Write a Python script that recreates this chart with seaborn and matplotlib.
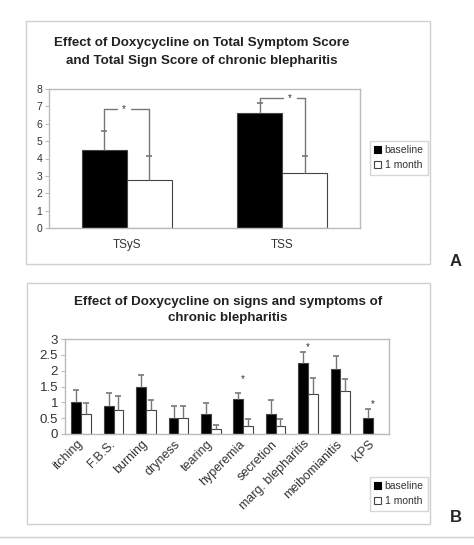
import numpy as np
import pandas as pd
import matplotlib
matplotlib.use("Agg")
import matplotlib.pyplot as plt
import seaborn as sns
from matplotlib.patches import Rectangle, Patch
from matplotlib.lines import Line2D

# Panel A: total scores
scores = ["TSyS", "TSS"]
score_baseline = [4.5, 6.6]
score_baseline_top = [5.6, 7.2]
score_month = [2.75, 3.15]
score_month_top = [4.15, 4.15]
bracket_y = [6.84, 7.49]

# Panel B: single signs and symptoms
signs = ["itching", "F.B.S.", "burning", "dryness", "tearing", "hyperemia",
         "secretion", "marg. blepharitis", "meibomianitis", "KPS"]
sign_baseline = [1.0, 0.87, 1.5, 0.5, 0.63, 1.12, 0.63, 2.25, 2.05, 0.5]
sign_baseline_top = [1.38, 1.3, 1.87, 0.88, 0.98, 1.28, 1.08, 2.6, 2.45, 0.78]
sign_month = [0.63, 0.75, 0.75, 0.5, 0.15, 0.25, 0.25, 1.25, 1.37, 0.0]
sign_month_top = [0.97, 1.2, 1.08, 0.88, 0.28, 0.48, 0.48, 1.78, 1.75, 0.0]
star_signs = ["hyperemia", "marg. blepharitis", "KPS"]
star_y = [1.72, 2.75, 0.93]

groups = ["baseline", "1 month"]

sns.set_style("white")
plt.rcParams["font.family"] = ["Liberation Sans", "DejaVu Sans"]

W, H = 474, 545
fig = plt.figure(figsize=(W / 100, H / 100), dpi=100)

def fx(px):
    return px / W

def fy(py):
    return 1 - py / H

grid_col = "#bbbbbb"
err_col = "#777777"
palette = {"baseline": "black", "1 month": "white"}


def draw_panel(ax, cats, base, base_top, month, month_top, width):
    df = pd.DataFrame({
        "cat": list(cats) * 2,
        "group": ["baseline"] * len(cats) + ["1 month"] * len(cats),
        "value": list(base) + list(month),
    })
    sns.barplot(data=df, x="cat", y="value", hue="group", hue_order=groups,
                palette=palette, edgecolor="#444444", linewidth=0.8,
                width=width, errorbar=None, legend=False, ax=ax)
    centers = []
    for cont, vals, tops in zip(ax.containers, [base, month], [base_top, month_top]):
        xs = np.array([b.get_x() + b.get_width() / 2 for b in cont])
        centers.append(xs)
        vals = np.array(vals)
        tops = np.array(tops)
        keep = tops > vals
        eb = ax.errorbar(xs[keep], vals[keep],
                         yerr=[np.zeros(keep.sum()), (tops - vals)[keep]],
                         fmt="none", ecolor=err_col, elinewidth=1, capsize=2.2,
                         capthick=1.2, zorder=1)
        # only the upper cap, like the original
        eb[1][0].remove()
    ax.set_xlim(-0.5, len(cats) - 0.5)
    ax.set_xlabel("")
    ax.set_ylabel("")
    for sp in ax.spines.values():
        sp.set_visible(True)
        sp.set_color(grid_col)
        sp.set_linewidth(1)
    ax.set_xticks(np.arange(len(cats) + 1) - 0.5, minor=True)
    ax.tick_params(axis="x", which="major", length=0)
    ax.tick_params(axis="x", which="minor", length=3, color=grid_col, direction="out")
    ax.tick_params(axis="y", length=3, color=grid_col, direction="out", left=True)
    return centers


# ---- Panel A
axA = fig.add_axes([fx(49), fy(228), fx(360) - fx(49), fy(89) - fy(228)])
cA = draw_panel(axA, scores, score_baseline, score_baseline_top,
                score_month, score_month_top, 0.58)
axA.set_ylim(0, 8)
axA.set_yticks(range(0, 9))
axA.tick_params(axis="y", labelsize=7.5, labelcolor="#333333", pad=2)
axA.tick_params(axis="x", labelsize=8.5, labelcolor="#333333", pad=8)

# significance brackets
for i in range(2):
    xl, xr = cA[0][i], cA[1][i]
    yb = bracket_y[i]
    axA.plot([xl, xl], [score_baseline_top[i], yb], color=err_col, lw=1)
    axA.plot([xr, xr], [score_month_top[i], yb], color=err_col, lw=1)
    xs = (xl + xr) / 2 + (-0.02 if i == 0 else 0.05)
    axA.plot([xl, xs - 0.045], [yb, yb], color=err_col, lw=1)
    axA.plot([xs + 0.045, xr], [yb, yb], color=err_col, lw=1)
    axA.text(xs, yb, "*", ha="center", va="center", fontsize=7, color="#333333")

fig.text(fx(202), fy(43), "Effect of Doxycycline on Total Symptom Score",
         ha="center", va="center", fontsize=9.6, weight="bold", color="#222222")
fig.text(fx(202), fy(61), "and Total Sign Score of chronic blepharitis",
         ha="center", va="center", fontsize=9.6, weight="bold", color="#222222")

# ---- Panel B
axB = fig.add_axes([fx(65), fy(434), fx(389) - fx(65), fy(339) - fy(434)])
draw_panel(axB, signs, sign_baseline, sign_baseline_top,
           sign_month, sign_month_top, 0.6)
axB.set_ylim(0, 3)
axB.set_yticks(np.arange(0, 3.01, 0.5))
axB.set_yticklabels(["0", "0.5", "1", "1.5", "2", "2.5", "3"])
axB.tick_params(axis="y", labelsize=9.5, labelcolor="#333333", pad=2)
axB.tick_params(axis="x", labelsize=9, labelcolor="#333333", pad=6)
for lab in axB.get_xticklabels():
    lab.set_rotation(45)
    lab.set_ha("right")
    lab.set_va("center")
    lab.set_rotation_mode("anchor")
for name, ys in zip(star_signs, star_y):
    axB.text(signs.index(name), ys, "*", ha="center", va="center",
             fontsize=7, color="#333333")

fig.text(fx(228), fy(302), "Effect of Doxycycline on signs and symptoms of",
         ha="center", va="center", fontsize=9.6, weight="bold", color="#222222")
fig.text(fx(228), fy(318), "chronic blepharitis",
         ha="center", va="center", fontsize=9.6, weight="bold", color="#222222")

# legends
handles = [Patch(facecolor="black", edgecolor="black", lw=0.8),
           Patch(facecolor="white", edgecolor="#444444", lw=0.8)]
for top in (141, 477):
    leg = fig.legend(handles, groups, loc="upper left",
                     bbox_to_anchor=(fx(370), fy(top)), fontsize=7.5,
                     frameon=True, fancybox=False, edgecolor="#cccccc",
                     handlelength=0.7, handleheight=0.7, handletextpad=0.3,
                     borderpad=0.4, labelspacing=0.5, borderaxespad=0)
    for t in leg.get_texts():
        t.set_color("#333333")

# outer panel frames and letters
fig.add_artist(Rectangle((fx(26), fy(264)), fx(430) - fx(26), fy(21) - fy(264),
                         transform=fig.transFigure, fill=False,
                         edgecolor="#d0d0d0", lw=1))
fig.add_artist(Rectangle((fx(27), fy(524)), fx(430) - fx(27), fy(283) - fy(524),
                         transform=fig.transFigure, fill=False,
                         edgecolor="#d0d0d0", lw=1))
fig.add_artist(Line2D([0, 1], [fy(537), fy(537)], transform=fig.transFigure,
                      color="#d0d0d0", lw=1))
fig.text(fx(456), fy(261), "A", ha="center", va="center", fontsize=12, weight="bold")
fig.text(fx(456), fy(518), "B", ha="center", va="center", fontsize=12, weight="bold")

fig.savefig("out.png", dpi=100)
